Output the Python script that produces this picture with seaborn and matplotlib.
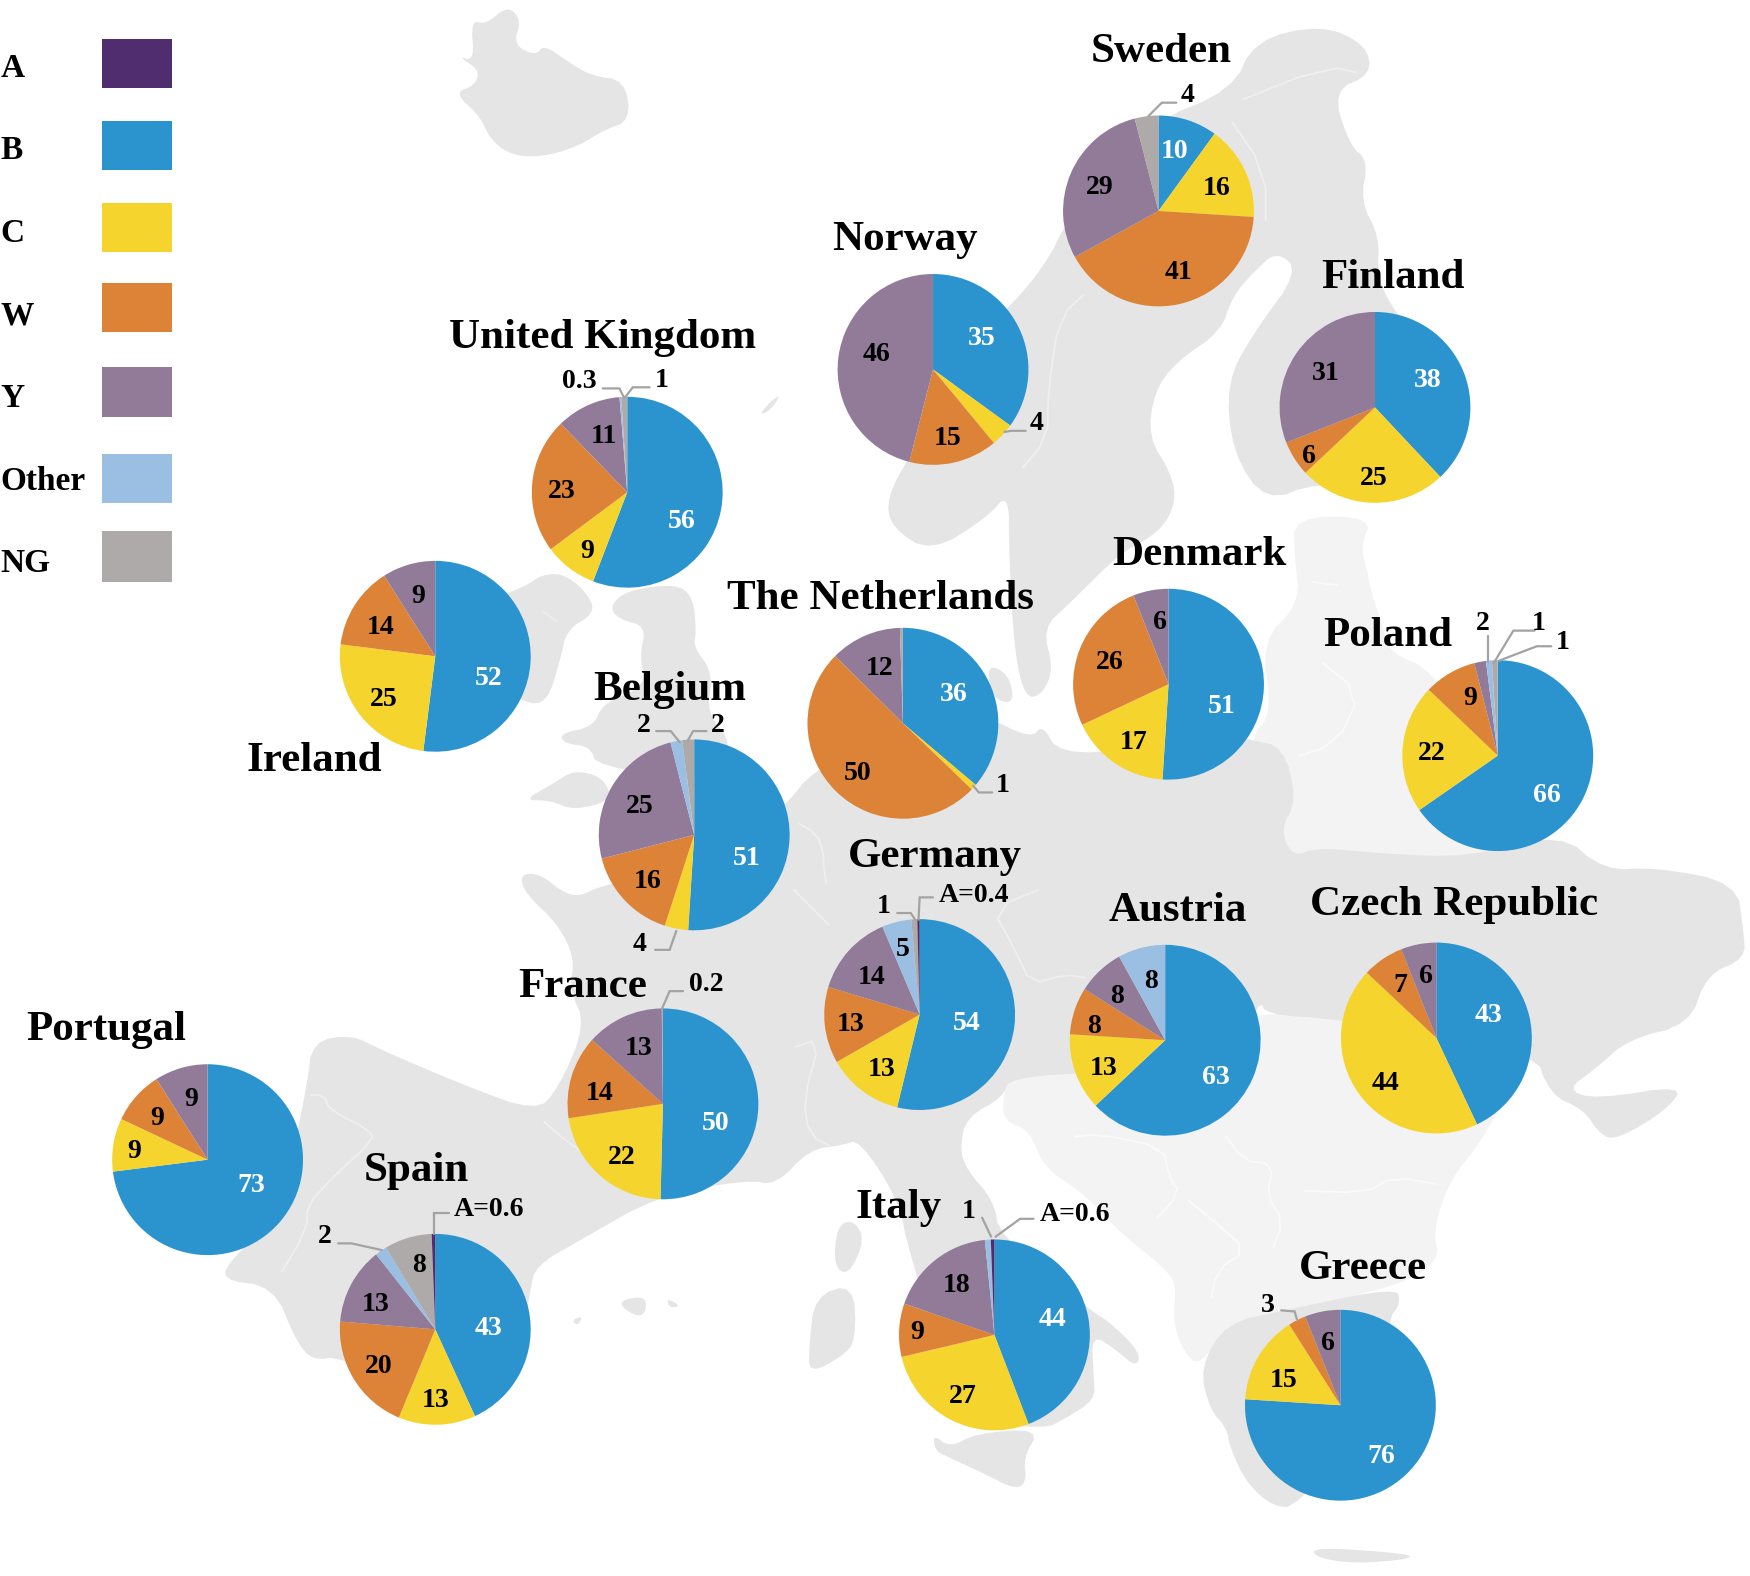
import matplotlib
matplotlib.use("Agg")
import matplotlib.pyplot as plt
from matplotlib.patches import Rectangle
import seaborn as sns

# ---- survey shares (percent) per country ------------------------------------
countries = ["Sweden", "Norway", "Finland", "United Kingdom", "Ireland", "The Netherlands",
             "Denmark", "Poland", "Belgium", "Germany", "Austria", "Czech Republic",
             "France", "Portugal", "Spain", "Italy", "Greece"]
share_A     = [0,  0,  0,  0,   0,  0,   0,  0,  0,  0.4, 0,  0,  0,   0,  0.6, 0.6, 0]
share_B     = [10, 35, 38, 56,  52, 36,  51, 66, 51, 54,  63, 43, 50,  73, 43,  44,  76]
share_C     = [16, 4,  25, 9,   25, 1,   17, 22, 4,  13,  13, 44, 22,  9,  13,  27,  15]
share_W     = [41, 15, 6,  23,  14, 50,  26, 9,  16, 13,  8,  7,  14,  9,  20,  9,   3]
share_Y     = [29, 46, 31, 11,  9,  12,  6,  2,  25, 14,  8,  6,  13,  9,  13,  18,  6]
share_Other = [0,  0,  0,  0.3, 0,  0,   0,  1,  2,  5,   8,  0,  0,   0,  2,   1,   0]
share_NG    = [4,  0,  0,  1,   0,  0.5, 0,  1,  2,  1,   0,  0,  0.2, 0,  8,   0,   0]

legend_keys = ["A", "B", "C", "W", "Y", "Other", "NG"]
key_colours = ["#4f2d6e", "#2b94cf", "#f6d42e", "#dd8338", "#917b99", "#9bbfe3", "#aeaaaa"]

series = dict(zip(legend_keys, [share_A, share_B, share_C, share_W, share_Y, share_Other, share_NG]))
palette = dict(zip(legend_keys, sns.color_palette(key_colours)))
wedge_order = ["B", "C", "W", "Y", "Other", "NG", "A"]

# ---- layout, in canvas units (1568 wide, y downwards) ------------------------
W, H = 1568, 1412
RADIUS = 85.5

pie_centres = {
    "Sweden": (1038, 189), "Norway": (836, 331), "Finland": (1232, 365),
    "United Kingdom": (562, 441), "Ireland": (390, 588), "The Netherlands": (809, 648),
    "Denmark": (1047, 613), "Poland": (1342, 677), "Belgium": (622, 748),
    "Germany": (824, 909), "Austria": (1044, 932), "Czech Republic": (1287, 930),
    "France": (594, 989), "Portugal": (186, 1039), "Spain": (390, 1191),
    "Italy": (891, 1196), "Greece": (1201, 1259),
}
title_pos = {
    "Sweden": (1040, 47), "Norway": (811, 215), "Finland": (1248, 249),
    "United Kingdom": (540, 303), "Ireland": (282, 682), "The Netherlands": (789, 537),
    "Denmark": (1075, 497), "Poland": (1243, 570), "Belgium": (600, 618),
    "Germany": (838, 768), "Austria": (1055, 816), "Czech Republic": (1303, 811),
    "France": (522, 884), "Portugal": (95, 923), "Spain": (373, 1049),
    "Italy": (805, 1082), "Greece": (1221, 1137),
}
value_pos = {
    "Sweden": {"B": (1052, 136), "C": (1090, 169), "W": (1056, 244), "Y": (985, 168), "NG": (1064, 86)},
    "Norway": {"B": (880, 303), "C": (929, 379), "W": (849, 393), "Y": (785, 318)},
    "Finland": {"B": (1279, 341), "C": (1231, 429), "W": (1173, 409), "Y": (1188, 335)},
    "United Kingdom": {"B": (611, 467), "C": (526, 494), "W": (503, 440), "Y": (541, 391),
                       "Other": (519, 342), "NG": (593, 341)},
    "Ireland": {"B": (438, 608), "C": (344, 627), "W": (341, 562), "Y": (375, 534)},
    "The Netherlands": {"B": (855, 622), "C": (898, 704), "W": (768, 693), "Y": (788, 599)},
    "Denmark": {"B": (1095, 633), "C": (1016, 665), "W": (994, 594), "Y": (1039, 558)},
    "Poland": {"B": (1386, 713), "C": (1283, 675), "W": (1317, 626), "Y": (1329, 559),
               "Other": (1379, 559), "NG": (1400, 576)},
    "Belgium": {"B": (669, 769), "C": (573, 846), "W": (580, 790), "Y": (573, 723),
                "Other": (577, 650), "NG": (643, 650)},
    "Germany": {"A": (873, 802), "B": (866, 917), "C": (790, 958), "W": (762, 918), "Y": (781, 876),
                "Other": (809, 851), "NG": (792, 812)},
    "Austria": {"B": (1089, 965), "C": (989, 957), "W": (980, 920), "Y": (1001, 893), "Other": (1031, 879)},
    "Czech Republic": {"B": (1334, 910), "C": (1241, 971), "W": (1255, 883), "Y": (1278, 875)},
    "France": {"B": (641, 1007), "C": (557, 1037), "W": (537, 980), "Y": (572, 939), "NG": (633, 882)},
    "Portugal": {"B": (225, 1062), "C": (120, 1032), "W": (141, 1002), "Y": (171, 985)},
    "Spain": {"A": (438, 1084), "B": (438, 1190), "C": (390, 1255), "W": (339, 1224), "Y": (337, 1169),
              "Other": (291, 1108), "NG": (375, 1134)},
    "Italy": {"A": (963, 1088), "B": (943, 1182), "C": (863, 1251), "W": (822, 1194), "Y": (857, 1152),
              "Other": (868, 1085)},
    "Greece": {"B": (1238, 1305), "C": (1150, 1237), "W": (1136, 1170), "Y": (1190, 1204)},
}
white_keys = {"B"}

leader_lines = [
    [(1029, 104), (1041, 92), (1054, 92)],
    [(900, 387), (906, 386), (919, 386)],
    [(540, 348), (555, 348), (559, 356)],
    [(582, 347), (567, 347), (560, 356)],
    [(872, 704), (877, 710), (889, 710)],
    [(1333, 570), (1333, 593)],
    [(1375, 565), (1356, 565), (1339, 593)],
    [(1390, 579), (1377, 579), (1343, 592)],
    [(588, 655), (601, 655), (609, 665)],
    [(633, 655), (621, 655), (616, 664)],
    [(587, 851), (600, 851), (606, 834)],
    [(804, 818), (816, 818), (820, 824)],
    [(836, 804), (824, 804), (823, 824)],
    [(612, 888), (600, 888), (593, 904)],
    [(303, 1114), (315, 1114), (342, 1120)],
    [(402, 1087), (389, 1087), (389, 1106)],
    [(880, 1091), (888, 1108)],
    [(926, 1092), (914, 1092), (892, 1108)],
    [(1148, 1174), (1160, 1175), (1162, 1182)],
]

legend_rows = [(34.7, 78.4, 61), (108, 152, 135), (182, 226, 209), (253.6, 297.7, 283),
               (329, 374, 357), (407, 451, 431), (476, 521, 505)]

# ---- base map outlines -------------------------------------------------------
land_dark = [
    # Iceland
    [(410, 50), (425, 55), (422, 18), (435, 22), (455, 5), (467, 18), (460, 40), (480, 50), (487, 40),
     (510, 56), (530, 68), (560, 72), (565, 108), (540, 117), (520, 130), (490, 140), (460, 140),
     (440, 126), (430, 104), (407, 83), (425, 77), (430, 63)],
    # Scandinavia and Finland
    [(834, 495), (799, 473), (794, 446), (820, 400), (880, 300), (934, 243), (960, 190), (1030, 110),
     (1104, 81), (1124, 36), (1184, 22), (1224, 40), (1229, 67), (1194, 81), (1209, 130), (1226, 144),
     (1219, 180), (1236, 212), (1234, 248), (1249, 279), (1300, 340), (1300, 400), (1240, 440),
     (1180, 432), (1134, 450), (1104, 405), (1099, 342), (1124, 297), (1164, 243), (1144, 225),
     (1124, 243), (1104, 266), (1094, 297), (1054, 324), (1034, 351), (1029, 392), (1049, 423),
     (1054, 450), (1039, 477), (1004, 495), (959, 540), (934, 563), (944, 599), (934, 622), (919, 626),
     (909, 586), (904, 495), (904, 441), (884, 464)],
    [(884, 595), (904, 604), (909, 631), (889, 626)],
    # Ireland and Great Britain
    [(470, 526), (487, 514), (508, 515), (529, 535), (532, 550), (508, 564), (502, 591), (490, 630),
     (469, 630), (430, 600), (430, 540)],
    [(546, 544), (561, 529), (606, 523), (621, 535), (624, 567), (621, 579), (639, 603), (633, 639),
     (657, 666), (640, 700), (535, 687), (529, 669), (505, 666), (502, 657), (532, 651), (540, 630),
     (579, 615), (573, 588), (579, 561), (555, 555)],
    [(469, 717), (496, 702), (514, 690), (540, 696), (549, 717), (514, 726), (493, 717)],
    [(680, 372), (690, 360), (700, 353), (690, 368)],
    # Continental Europe west of the Balkans, with Ukraine
    [(466, 783), (484, 783), (505, 800), (520, 803), (537, 794), (600, 780), (660, 760), (708, 717),
     (726, 693), (800, 650), (880, 640), (924, 662), (934, 649), (949, 676), (1024, 671), (1104, 658),
     (1120, 663), (1150, 669), (1162, 717), (1147, 744), (1159, 768), (1180, 759), (1239, 765),
     (1317, 768), (1398, 746), (1437, 780), (1484, 777), (1556, 791), (1562, 833), (1564, 859),
     (1529, 873), (1514, 918), (1459, 931), (1429, 958), (1404, 976), (1429, 985), (1509, 972),
     (1494, 994), (1449, 1021), (1434, 1017), (1419, 994), (1389, 981), (1374, 940), (1199, 913),
     (1134, 909), (1129, 895), (1100, 960), (1000, 960), (904, 965), (899, 983), (866, 1001),
     (860, 1028), (866, 1048), (890, 1075), (896, 1108), (977, 1174), (995, 1185), (1022, 1212),
     (1018, 1225), (1001, 1210), (978, 1195), (980, 1234), (981, 1254), (956, 1270), (935, 1281),
     (860, 1270), (814, 1120), (805, 1075), (770, 1021), (755, 1026), (725, 1030), (695, 1062),
     (670, 1057), (590, 1071), (520, 1111), (480, 1134), (475, 1156), (460, 1250), (400, 1260),
     (305, 1215), (280, 1219), (265, 1201), (245, 1152), (197, 1147), (210, 1125), (250, 1090),
     (265, 1021), (275, 972), (280, 933), (315, 927), (340, 940), (415, 972), (480, 996), (500, 976),
     (525, 918), (510, 886), (515, 859), (500, 828), (470, 800)],
    # Mediterranean islands
    [(836, 1285), (851, 1297), (875, 1284), (932, 1280), (917, 1306), (920, 1326), (911, 1335),
     (881, 1320), (851, 1306), (838, 1300)],
    [(750, 1098), (765, 1093), (775, 1111), (760, 1143), (747, 1134)],
    [(730, 1161), (765, 1150), (767, 1201), (755, 1215), (725, 1231), (725, 1206)],
    [(555, 1165), (580, 1161), (577, 1181), (560, 1174)],
    [(597, 1163), (610, 1170), (600, 1172)],
    [(512, 1183), (522, 1179), (518, 1188)],
    # Greece and Crete
    [(1099, 1185), (1075, 1225), (1084, 1263), (1099, 1279), (1102, 1297), (1117, 1329), (1141, 1350),
     (1162, 1350), (1250, 1250), (1243, 1183), (1255, 1168), (1251, 1153), (1150, 1174)],
    [(1177, 1386), (1263, 1392), (1263, 1397), (1212, 1401), (1178, 1395)],
]
land_light = [
    # Baltic states and Poland
    [(1159, 463), (1230, 463), (1219, 490), (1225, 511), (1228, 529), (1239, 561), (1245, 585),
     (1284, 600), (1398, 746), (1317, 790), (1150, 790), (1130, 700), (1120, 660), (1140, 640),
     (1130, 575), (1165, 540), (1160, 500)],
    # Balkans
    [(904, 960), (1134, 905), (1199, 910), (1374, 935), (1329, 1021), (1299, 1057), (1284, 1102),
     (1290, 1130), (1251, 1153), (1150, 1174), (1099, 1185), (1075, 1225), (1060, 1210), (1051, 1185),
     (1054, 1150), (1042, 1135), (1001, 1102), (971, 1069), (935, 1046), (923, 1013), (899, 1004),
     (899, 983)],
]
# frontiers within the darker countries
borders_dark = [
    [(979, 257), (949, 284), (939, 351), (939, 392), (909, 428)],
    [(1094, 95), (1134, 153), (1134, 212)],
    [(1089, 99), (1189, 59), (1224, 67)],
    [(481, 544), (505, 561)],
    [(275, 981), (290, 981), (295, 994), (330, 1012), (335, 1021), (300, 1053), (275, 1080), (275, 1102), (245, 1152)],
    [(480, 998), (510, 1025), (545, 1045), (590, 1062)],
    [(711, 735), (732, 747), (738, 765), (738, 777), (741, 797)],
    [(705, 791), (729, 815), (747, 833)],
    [(705, 940), (735, 931), (720, 985), (725, 1017), (750, 1030)],
    [(944, 792), (889, 814), (909, 850), (924, 882), (954, 873), (979, 877)],
]
# frontiers within the paler countries
borders_light = [
    [(1165, 520), (1210, 526)],
    [(1153, 681), (1198, 666), (1219, 621), (1174, 585)],
    [(956, 1019), (985, 1016), (1042, 1028), (1048, 1055), (1057, 1069), (1030, 1099)],
    [(1093, 1010), (1114, 1040), (1141, 1043), (1135, 1072), (1150, 1093), (1138, 1126)],
    [(1150, 1066), (1224, 1069), (1248, 1054), (1299, 1063)],
    [(1057, 1069), (1090, 1096), (1117, 1120), (1090, 1138), (1084, 1171)],
]


def chaikin(points, closed=True, rounds=2):
    """Corner-cut an outline so the coasts read as curves rather than facets."""
    pts = list(points)
    for _ in range(rounds):
        out = []
        n = len(pts)
        last = n if closed else n - 1
        for j in range(last):
            (x0, y0), (x1, y1) = pts[j], pts[(j + 1) % n]
            out.append((0.75 * x0 + 0.25 * x1, 0.75 * y0 + 0.25 * y1))
            out.append((0.25 * x0 + 0.75 * x1, 0.25 * y0 + 0.75 * y1))
        pts = out
    return pts


# ---- figure ------------------------------------------------------------------
sns.set_theme(style="white")
plt.rcParams["font.family"] = ["Liberation Serif", "DejaVu Serif"]
plt.rcParams["font.weight"] = "bold"

fig = plt.figure(figsize=(17.5, 15.76), dpi=100)
ax = fig.add_axes([0, 0, 1, 1])


def flip(y):
    return H - y


def fill_shapes(shapes, colour):
    for shape in shapes:
        xs, ys = zip(*chaikin(shape))
        ax.fill(xs, [flip(v) for v in ys], color=colour, lw=0, zorder=1)


def draw_borders(lines, colour):
    for line in lines:
        xs, ys = zip(*chaikin(line, closed=False, rounds=1))
        ax.plot(xs, [flip(v) for v in ys], color=colour, lw=1.3, zorder=2)


fill_shapes(land_light, "#f3f3f3")
fill_shapes(land_dark, "#e5e5e5")
draw_borders(borders_dark, "#efefef")
draw_borders(borders_light, "#fafafa")

for i, name in enumerate(countries):
    keys = [k for k in wedge_order if series[k][i] > 0]
    cx, cy = pie_centres[name]
    ax.pie([series[k][i] for k in keys], colors=[palette[k] for k in keys],
           center=(cx, flip(cy)), radius=RADIUS, startangle=90, counterclock=False,
           frame=True, wedgeprops={"linewidth": 0, "zorder": 3})
    for w in ax.patches[-len(keys):]:
        w.set_zorder(3)
    for key, (tx, ty) in value_pos[name].items():
        value = series[key][i]
        text = f"A={value:g}" if key == "A" else f"{value:g}"
        ax.text(tx, flip(ty), text, ha="center", va="center", fontsize=20, fontweight="bold",
                color="white" if key in white_keys else "black", zorder=6)
    tx, ty = title_pos[name]
    ax.text(tx, flip(ty), name, ha="center", va="center", fontsize=31, fontweight="bold",
            color="black", zorder=6)

for line in leader_lines:
    xs, ys = zip(*line)
    ax.plot(xs, [flip(v) for v in ys], color="#a3a3a3", lw=1.6, zorder=5, solid_joinstyle="miter")

for key, (top, bottom, label_y) in zip(legend_keys, legend_rows):
    ax.add_patch(Rectangle((91.5, flip(bottom)), 63, bottom - top, facecolor=palette[key],
                           edgecolor="none", zorder=3))
    ax.text(0.5, flip(label_y), key, ha="left", va="center", fontsize=24, fontweight="bold",
            color="black", zorder=6)

ax.set_xlim(0, W)
ax.set_ylim(0, H)
ax.set_aspect("auto")
ax.axis("off")
fig.savefig("out.png", dpi=100, facecolor="white")
